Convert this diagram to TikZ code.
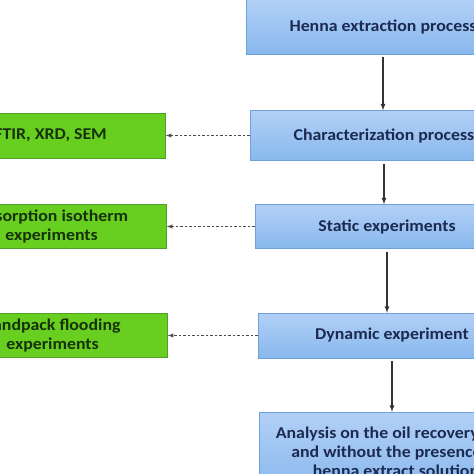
\documentclass[tikz,border=0pt]{standalone}
\usepackage{fontspec}
\setmainfont{Carlito}[FakeStretch=1.08]
\usetikzlibrary{shapes,arrows,positioning}
\definecolor{procline}{RGB}{110,160,220}
\definecolor{proctop}{RGB}{178,208,246}
\definecolor{procbot}{RGB}{136,184,238}
\definecolor{proctext}{RGB}{28,42,80}
\definecolor{resfill}{RGB}{104,206,32}
\definecolor{resline}{RGB}{80,160,40}
\definecolor{restext}{RGB}{22,50,10}
\begin{document}
\begin{tikzpicture}[
    x=1pt, y=-1pt,
    process/.style={rectangle, draw=procline, top color=proctop, bottom color=procbot, align=center, inner sep=0pt, text=proctext, font=\bfseries\fontsize{16.5}{19}\selectfont},
    result/.style={rectangle, draw=resline, fill=resfill, align=center, inner sep=0pt, minimum width=230pt, text=restext, font=\bfseries\fontsize{16.5}{19}\selectfont},
    arrow/.style={line width=1.2pt, draw=black!80, ->, >=latex, shorten <=3pt},
    dotarrow/.style={line width=0.9pt, draw=black!70, dash pattern=on 2.5pt off 2pt, ->, >=latex}
]
\useasboundingbox (0,0) rectangle (474,474);
\clip (0,0) rectangle (474,474);
% Main process chain
\node[process, minimum width=274pt, minimum height=55pt] (henna) at (383,26.5) {Henna extraction process};
\node[process, minimum width=268pt, minimum height=50pt] (charac) at (384,135.5) {Characterization process};
\node[process, minimum width=264pt, minimum height=44pt] (static) at (387,226.5) {Static experiments};
\node[process, minimum width=268pt, minimum height=45pt] (dynamic) at (392,335.5) {Dynamic experiment};
\node[process, minimum width=274pt, minimum height=80pt] (analysis) at (396,452) {Analysis on the oil recovery with\\and without the presence of\\henna extract solution};
% Side results
\node[result, minimum height=45pt, left=84pt of charac] (ftir) {FTIR, XRD, SEM};
\node[result, minimum height=44pt, left=88pt of static] (adsorp) {Adsorption isotherm\\experiments};
\node[result, minimum height=44pt, left=90pt of dynamic] (sandpack) {Sandpack flooding\\experiments};
% Arrows
\draw[arrow] (henna.south) -- (henna.south |- charac.north);
\draw[arrow] (charac.south) -- (charac.south |- static.north);
\draw[arrow] (static.south) -- (static.south |- dynamic.north);
\draw[arrow] (dynamic.south) -- (dynamic.south |- analysis.north);
\draw[dotarrow] (charac.west) -- (ftir.east);
\draw[dotarrow] (static.west) -- (adsorp.east);
\draw[dotarrow] (dynamic.west) -- (sandpack.east);
\end{tikzpicture}
\end{document}
